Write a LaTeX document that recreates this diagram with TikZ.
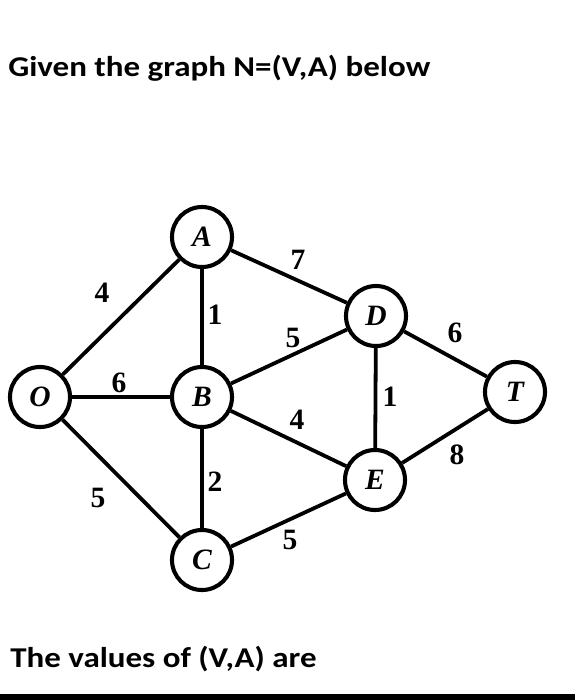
\documentclass[tikz,border=0pt]{standalone}
\usepackage{fontspec}
\newfontfamily\headfont[FakeStretch=1.15]{Carlito}
\newfontfamily\graphfont{Liberation Serif}
\usetikzlibrary{positioning}

\tikzset{
  vertex/.style={circle, draw, line width=2.9pt, minimum size=1.5cm, inner sep=0pt,
    font=\graphfont\bfseries\itshape\fontsize{21}{23}\selectfont},
  edge/.style={line width=2.7pt},
  weight/.style={inner sep=0pt, font=\graphfont\bfseries\fontsize{21}{23}\selectfont},
  caption/.style={anchor=base west, inner sep=0pt, font=\headfont\bfseries\fontsize{20.4}{24}\selectfont}
}

\begin{document}
\begin{tikzpicture}[x=0.025cm, y=-0.025cm]
            \useasboundingbox (0,0) rectangle (575,700);

            % Texts
            \node[caption] (title) at (8,76) {Given the graph N=(V,A) below};
            \node[caption] (question) at (10,667) {The values of (V,A) are};
            \fill (0,694) rectangle (575,700);

            % Vertices
            \node[vertex] (O) at (40,397) {O};
            \node[vertex] (A) at (202,237) {A};
            \node[vertex] (B) at (202,397) {B};
            \node[vertex] (C) at (202,560) {C};
            \node[vertex] (D) at (376,316) {D};
            \node[vertex] (E) at (375,480) {E};
            \node[vertex] (T) at (515,392) {T};

            % Arcs
            \draw[edge] (O) -- (A);
            \draw[edge] (O) -- (B);
            \draw[edge] (O) -- (C);
            \draw[edge] (A) -- (B);
            \draw[edge] (A) -- (D);
            \draw[edge] (B) -- (C);
            \draw[edge] (B) -- (D);
            \draw[edge] (B) -- (E);
            \draw[edge] (C) -- (E);
            \draw[edge] (D) -- (E);
            \draw[edge] (D) -- (T);
            \draw[edge] (E) -- (T);

            % Weights
            \node[weight] (wOA) at (102,293) {4};
            \node[weight] (wOB) at (119,383) {6};
            \node[weight] (wOC) at (98,498) {5};
            \node[weight] (wAB) at (215,315) {1};
            \node[weight] (wAD) at (298,260) {7};
            \node[weight] (wBC) at (215,482) {2};
            \node[weight] (wBD) at (293,338) {5};
            \node[weight] (wBE) at (297,420) {4};
            \node[weight] (wCE) at (290,540) {5};
            \node[weight] (wDE) at (390,397) {1};
            \node[weight] (wDT) at (455,333) {6};
            \node[weight] (wET) at (457,455) {8};

        \end{tikzpicture}
\end{document}
